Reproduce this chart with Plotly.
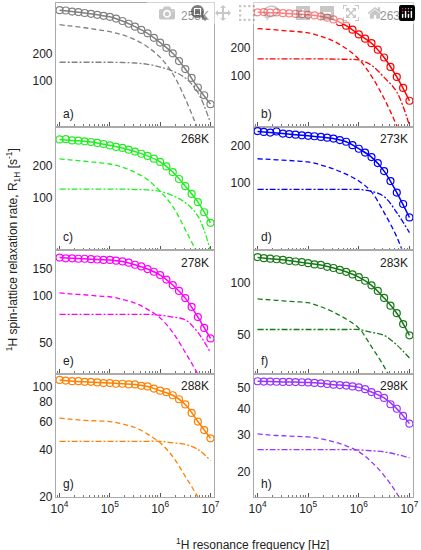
import plotly.graph_objects as go

# frequencies (Hz)
FREQ_FIT = [1e4, 1.78e4, 3.16e4, 5.62e4, 1e5, 1.78e5, 3.16e5, 5.62e5, 1e6, 1.78e6, 3.16e6, 5.62e6, 1e7]
FREQ_PTS = [1e4, 1.33e4, 1.78e4, 2.37e4, 3.16e4, 4.22e4, 5.62e4, 7.5e4, 1e5, 1.33e5, 1.78e5, 2.37e5,
            3.16e5, 4.22e5, 5.62e5, 7.5e5, 1e6, 1.33e6, 1.78e6, 2.37e6, 3.16e6, 4.22e6, 5.62e6, 7.5e6, 1e7]

TEMPS = ["258K", "263K", "268K", "273K", "278K", "283K", "288K", "298K"]
LETTERS = ["a)", "b)", "c)", "d)", "e)", "f)", "g)", "h)"]
COLORS = ["#808080", "#ff0000", "#22ee22", "#0000ff", "#ff00ff", "#1a7a1a", "#ff8000", "#9933ff"]

PTS = [
    [590,585,570,562,550,538,525,512,500,478,450,420,390,360,330,295,262,230,200,165,135,108,85,70,56],
    [470,472,466,468,460,457,452,448,442,436,425,412,395,370,340,308,275,248,222,190,157,125,98,75,55],
    [360,362,352,350,345,340,333,325,315,305,298,287,275,262,250,235,219,198,175,150,128,108,90,72,57],
    [262,258,255,260,250,248,245,242,240,238,235,232,228,222,215,202,189,176,162,145,125,104,84,68,53],
    [178,176,176,175,175,174,173,172,172,170,168,165,160,156,150,144,137,128,118,108,97,85,73,62,53],
    [141,139,138,137,136,134,133,132,130,128,127,124,122,119,116,112,108,103,97,90,82,74,67,58,50],
    [110,109,108,108,107,107,106,105,105,104,104,103,103,101,100,97,94,92,88,83,77,68,60,53,47],
    [54,53.8,53.8,53.7,53.6,53.6,53.5,53.4,53.3,53,52.8,52.4,52,51.8,51.5,51,50.5,49.5,48,46.5,45,42,40,37,34],
]
FIT = [
    [590,570,550,525,500,450,390,330,262,200,135,85,56],
    [470,466,460,452,442,425,395,340,275,222,157,98,55],
    [360,352,345,333,315,298,275,250,219,175,128,90,57],
    [260,255,250,245,240,235,228,215,189,162,125,84,53],
    [178,176,175,173,172,168,160,150,137,118,97,73,53],
    [140,138,136,133,130,127,122,116,108,97,82,67,50],
    [110,108,107,106,105,104,103,100,94,88,77,60,47],
    [54,53.8,53.6,53.5,53.3,52.8,52,51.5,50.5,48,45,40,34],
]
DASH = [
    [410,395,380,362,344,318,282,235,181,120,64,30,14],
    [316,310,302,295,286,262,234,195,151,100,58,30,14],
    [234,228,222,216,209,195,174,148,114,82,49,28,14],
    [157,155,153,151,148,140,130,118,104,85,58,37,20],
    [105,103,102,100,99,95,90,82,72,58,43,31,22],
    [81,80,79,78,77,73,68,62,55,43,33,24,17],
    [63,62,61,60.5,60,58,55,50,44,36,27,20,14],
    [30.4,30,29.8,29.6,29.4,28.8,27.9,26.7,25,22.4,19.3,15.9,12.5],
]
DASHDOT = [
    [160,160,160,160,160,159,157,152,142,128,108,75,35],
    [152,152,152,152,152,152,151,150,148,130,97,68,30],
    [120,120,120,120,120,120,119,118,114,104,89,66,31],
    [89,89,89,89,89,89,89,89,89,86,78,58,40],
    [76,76,76,76,76,76,76,76,75,73,70,58,43],
    [54,54,54,54,54,54,54,54,54,52,50,44,37],
    [45,45,45,45,45,45,45,45,45,44,43,40,34],
    [25.6,25.6,25.6,25.6,25.6,25.6,25.6,25.6,25.5,25.3,25,24.3,23.4],
]
YTICKS = [[100,200],[100,200],[100,200],[100,200],[50,100,150],[50,100],[20,40,60,80,100],[20,30,40,50]]
YRANGE = [[1.505,2.849],[1.469,2.77],[1.495,2.68],[1.463,2.455],[1.496,2.30],[1.479,2.19],[1.301,2.082],[1.184,1.769]]
XTICKS = [1e4, 1e5, 1e6, 1e7]
XTICKTEXT = ["10<sup>4</sup>", "10<sup>5</sup>", "10<sup>6</sup>", "10<sup>7</sup>"]

W, H = 421, 550
ML, MR, MT, MB = 56, 8, 3, 53
pw = W - ML - MR
xdoms = [[0, (214 - ML) / pw], [(254 - ML) / pw, 1]]
ydoms = [[1 - (r + 1) / 4, 1 - r / 4] for r in range(4)]

fig = go.Figure()
FONT = "Liberation Sans, Arial, sans-serif"
for i in range(8):
    r, c = divmod(i, 2)
    n = i + 1
    xa = "x" if n == 1 else f"x{n}"
    ya = "y" if n == 1 else f"y{n}"
    col = COLORS[i]
    fig.add_trace(go.Scatter(x=FREQ_FIT, y=DASH[i], mode="lines", line=dict(color=col, width=1.3, dash="5px,3px", shape="spline"), xaxis=xa, yaxis=ya, showlegend=False))
    fig.add_trace(go.Scatter(x=FREQ_FIT, y=DASHDOT[i], mode="lines", line=dict(color=col, width=1.3, dash="6px,2px,2px,2px", shape="spline"), xaxis=xa, yaxis=ya, showlegend=False))
    fig.add_trace(go.Scatter(x=FREQ_FIT, y=FIT[i], mode="lines", line=dict(color=col, width=1.5, shape="spline"), xaxis=xa, yaxis=ya, showlegend=False))
    fig.add_trace(go.Scatter(x=FREQ_PTS, y=PTS[i], mode="markers", marker=dict(symbol="circle-open", size=7, color=col, line=dict(width=1.2, color=col)), xaxis=xa, yaxis=ya, showlegend=False))
    xkey = "xaxis" if n == 1 else f"xaxis{n}"
    ykey = "yaxis" if n == 1 else f"yaxis{n}"
    fig.layout[xkey] = dict(type="log", domain=xdoms[c], anchor=ya, range=[3.93, 7.07],
                            tickvals=XTICKS, ticktext=XTICKTEXT, showticklabels=(r == 3),
                            ticks="inside", ticklen=4, tickcolor="#555",
                            minor=dict(ticks="inside", ticklen=2, dtick="D1", tickcolor="#777"),
                            showgrid=False, zeroline=False, showline=True, linecolor="#aaaaaa", linewidth=1.2, mirror=True,
                            tickfont=dict(size=12, color="#222"))
    fig.layout[ykey] = dict(type="log", domain=ydoms[r], anchor=xa, range=YRANGE[i],
                            tickvals=YTICKS[i], ticktext=[str(v) for v in YTICKS[i]],
                            ticks="", showgrid=False, zeroline=False, showline=True, linecolor="#aaaaaa", linewidth=1.2, mirror=True,
                            tickfont=dict(size=12, color="#222"))
    fig.add_annotation(xref=f"{xa} domain", yref=f"{ya} domain", x=0.98, y=0.97, xanchor="right", yanchor="top",
                       text=TEMPS[i], showarrow=False, font=dict(size=12, color="#222"))
    fig.add_annotation(xref=f"{xa} domain", yref=f"{ya} domain", x=0.03, y=0.03, xanchor="left", yanchor="bottom",
                       text=LETTERS[i], showarrow=False, font=dict(size=12, color="#222"))

fig.add_annotation(xref="paper", yref="paper", x=-0.12, y=0.5, xanchor="center", yanchor="middle", textangle=-90,
                   text="<sup>1</sup>H spin-lattice relaxation rate, R<sub>1H</sub> [s<sup>-1</sup>]", showarrow=False,
                   font=dict(size=12, color="#222"))
fig.add_annotation(xref="paper", yref="paper", x=0.55, y=-0.075, xanchor="center", yanchor="top",
                   text="<sup>1</sup>H resonance frequency [Hz]", showarrow=False, font=dict(size=12, color="#222"))

fig.update_layout(width=W, height=H, margin=dict(l=ML, r=MR, t=MT, b=MB), plot_bgcolor="white", paper_bgcolor="white",
                  font=dict(family=FONT, size=12, color="#222"))
fig.write_html("out.html", post_script="document.body.style.margin='0';document.body.style.overflow='hidden';")
